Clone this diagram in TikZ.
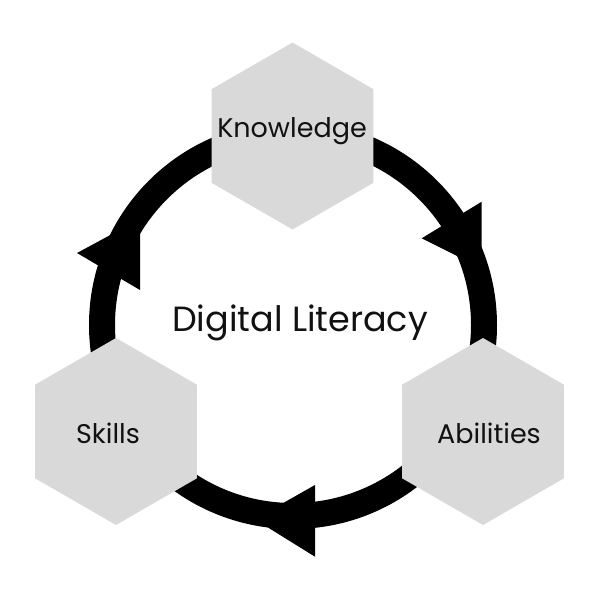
\documentclass[tikz,border=0pt]{standalone}
\usepackage{fontspec}
\setmainfont{Poppins}
\usetikzlibrary{shapes.geometric}
\definecolor{hexgray}{HTML}{D9D9D9}
\definecolor{inkblack}{HTML}{111111}
\begin{document}
\begin{tikzpicture}[x=1pt,y=-1pt,
  hexbox/.style={regular polygon, regular polygon sides=6, shape border rotate=30,
    fill=hexgray, draw=none, minimum size=187pt, inner sep=0pt},
  hexlabel/.style={anchor=base, inner sep=0pt, text=inkblack, font=\fontsize{27}{31}\selectfont},
  titlelabel/.style={anchor=base, inner sep=0pt, text=inkblack, font=\fontsize{35}{41}\selectfont},
  ring/.style={draw=black, line width=26pt},
  tiphead/.style={fill=black, draw=none}]
\useasboundingbox (0,0) rectangle (600,600);
\coordinate (c) at (293,325);
% ring
\draw[ring] (c) circle[radius=191];
% arrow heads
\fill[tiphead] (77,253) -- (140,290) -- (140,219) -- cycle;
\fill[tiphead] (421.7,238.3) -- (481.7,201.7) -- (481.7,268.3) -- cycle;
\fill[tiphead] (315,485) -- (315,556.7) -- (254.6,519.2) -- cycle;
% hexagons
\node[hexbox] (know) at (292.5,136) {};
\node[hexbox] (skills) at (116,431.5) {};
\node[hexbox] (abil) at (483,431.5) {};
% labels
\node[hexlabel] (knowt) at (292,137.3) {Knowledge};
\node[hexlabel] (skillst) at (108,443.3) {Skills};
\node[hexlabel] (abilt) at (489,443) {Abilities};
\node[titlelabel] (title) at (300,331) {Digital Literacy};
\end{tikzpicture}
\end{document}
